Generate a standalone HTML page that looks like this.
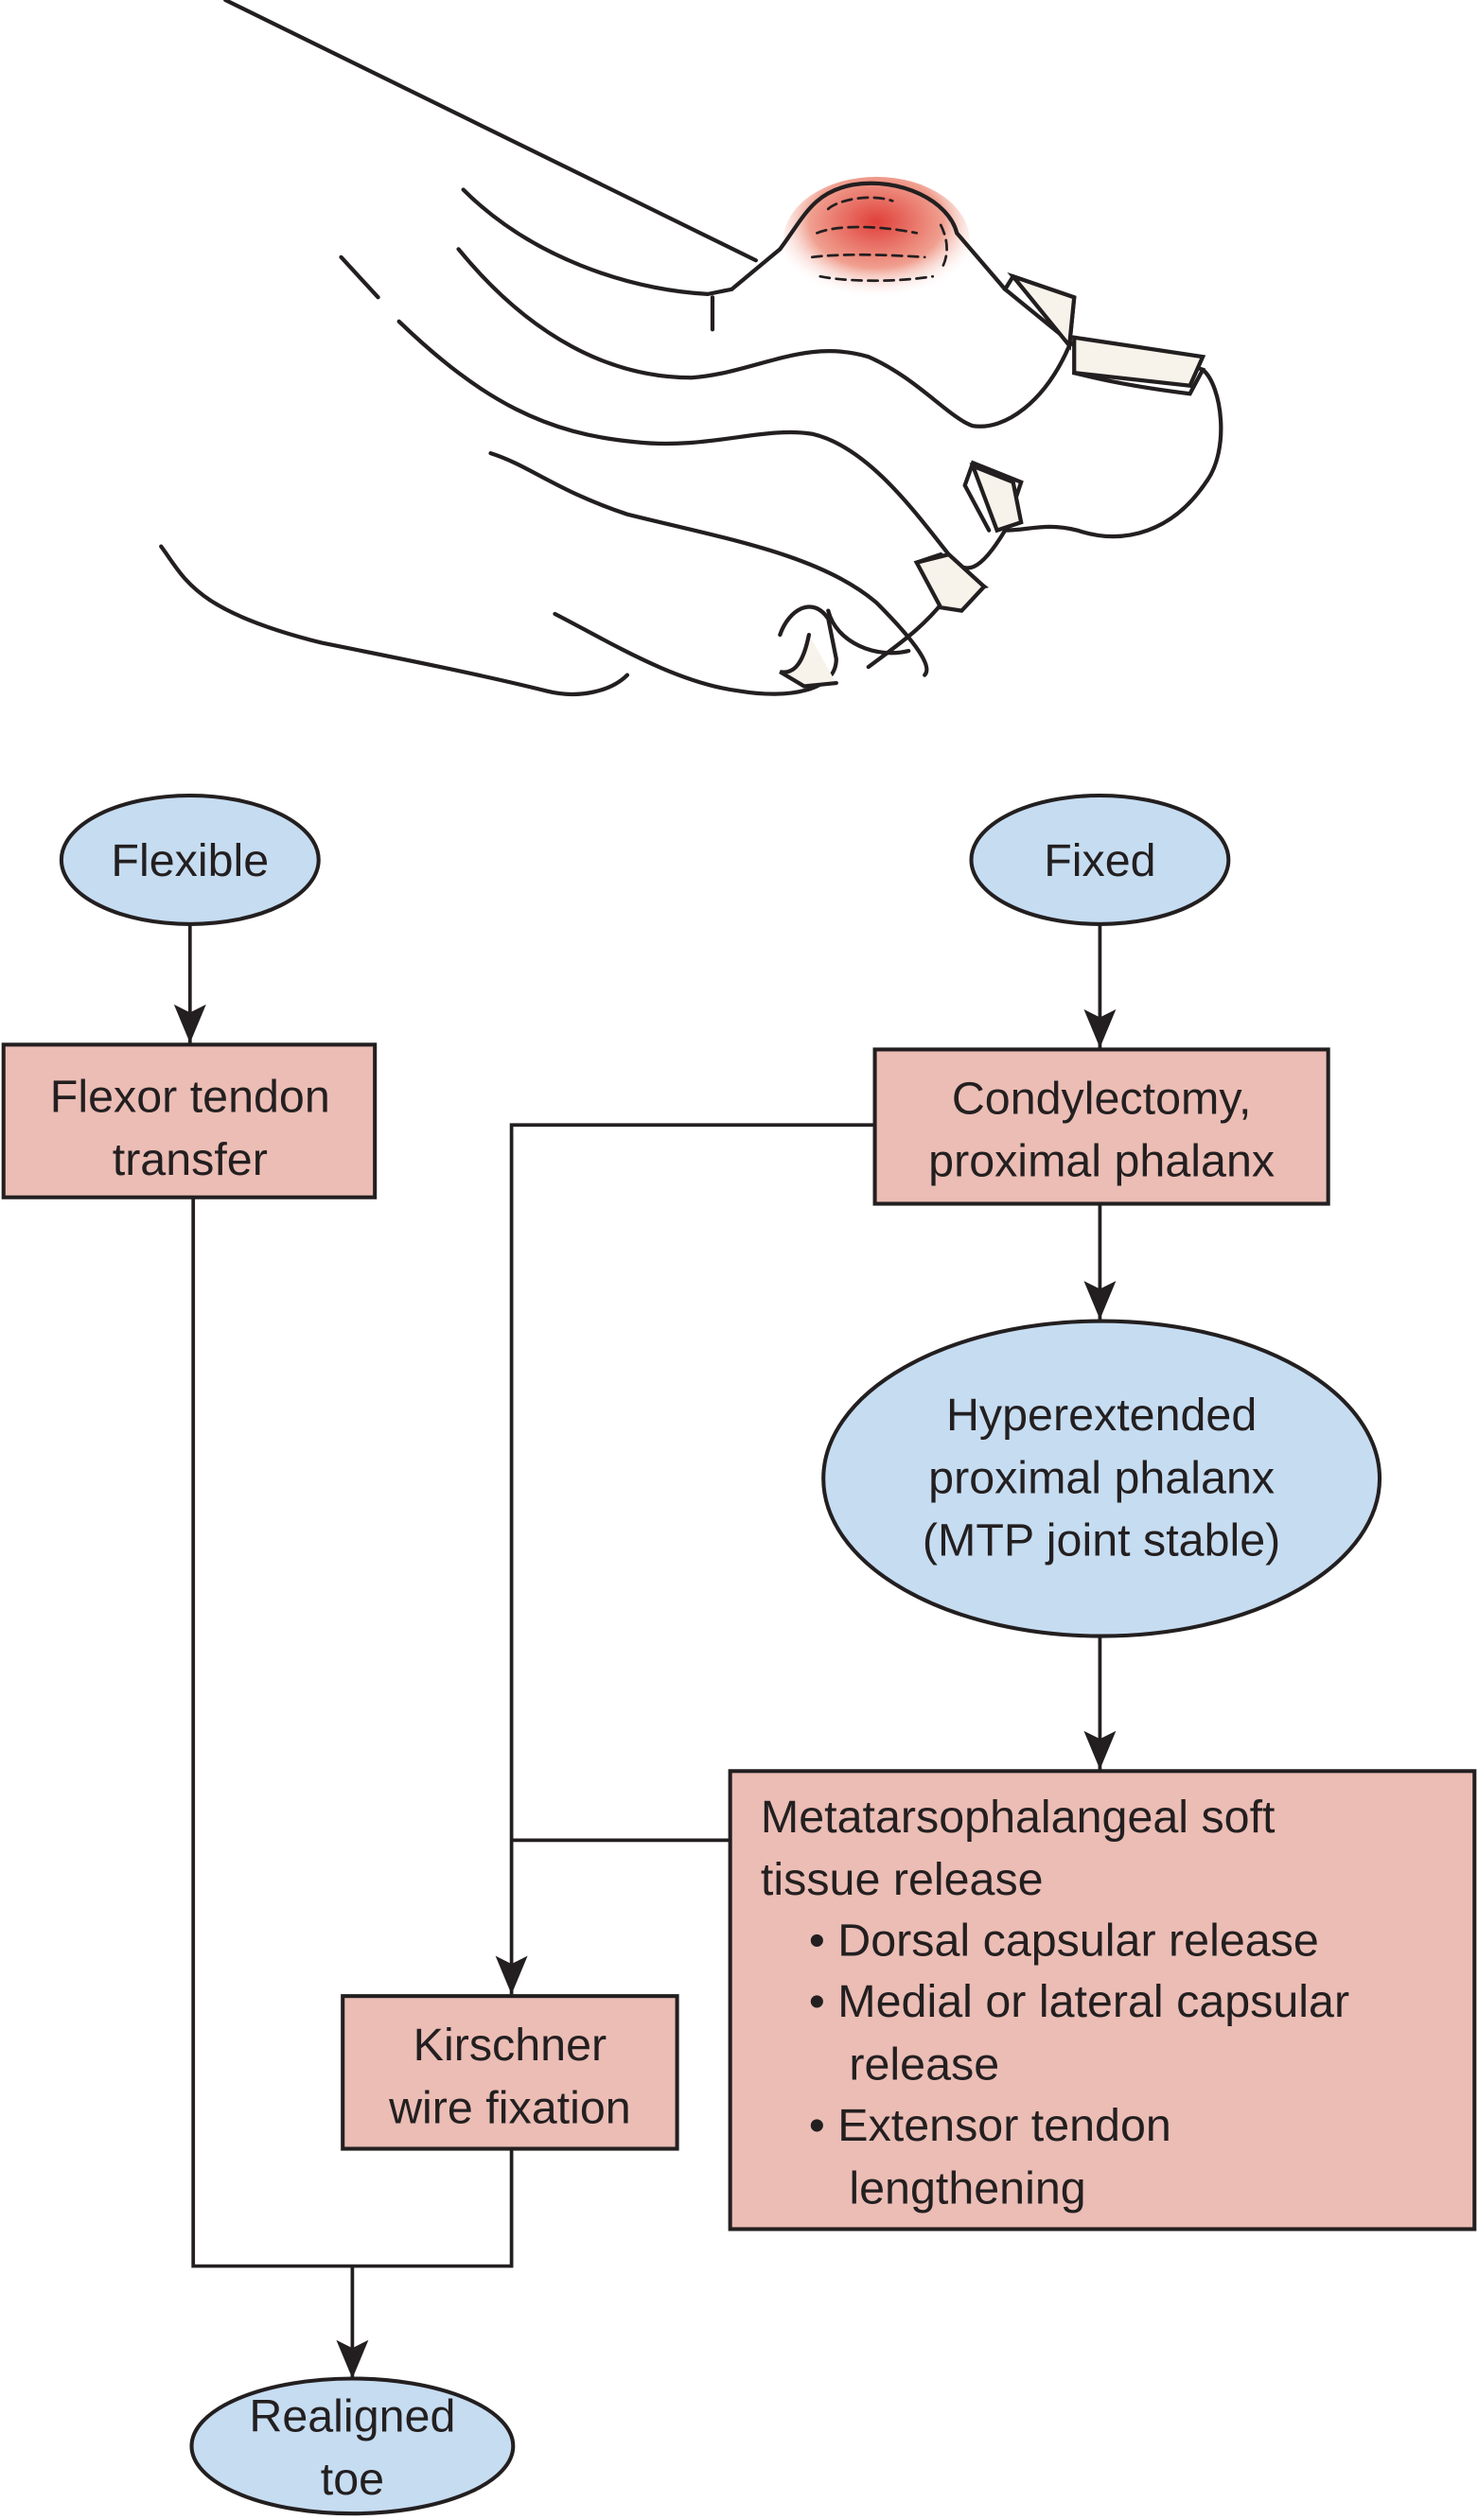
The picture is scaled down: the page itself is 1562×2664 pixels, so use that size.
<!DOCTYPE html>
<html><head><meta charset="utf-8"><style>
html,body{margin:0;padding:0;background:#fff;}
svg{display:block}
text{font-family:"Liberation Sans",Arial,sans-serif;font-size:28.5px;fill:#231f20}
</style></head><body>
<svg width="1562" height="2664" viewBox="0 0 919 1568" xmlns="http://www.w3.org/2000/svg">
<defs>
<radialGradient id="red" cx="0.5" cy="0.35" r="0.6">
<stop offset="0" stop-color="#e0403a"/><stop offset="0.6" stop-color="#f0a090"/><stop offset="1" stop-color="#fff" stop-opacity="0"/>
</radialGradient>
<marker id="ah" markerWidth="26" markerHeight="22" refX="24" refY="11" orient="auto" markerUnits="userSpaceOnUse">
<path d="M0,1 L24,11 L0,21 L5,11 Z" fill="#231f20"/>
</marker>
</defs>
<!-- foot -->
<g fill="none" stroke="#231f20" stroke-width="2.5" stroke-linecap="round">
<ellipse cx="545" cy="150" rx="58" ry="40" fill="url(#red)" stroke="none"/>
<path d="M140,0 L470,162"/>
<path d="M288,118 C330,160 390,180 440,183 L455,180 L485,155 C500,135 505,120 530,115 C560,110 590,125 595,145 L625,180"/>
<path d="M443,185 L443,205"/>
<path d="M285,155 C330,210 380,235 430,235 C470,232 500,210 540,222 C570,235 590,260 605,265 C625,268 650,250 665,215 L668,185 L630,172 L625,180 L668,215"/>
<path d="M212,160 L235,185 M248,200 C300,250 340,270 395,275 C440,280 475,265 505,270 C540,278 570,320 590,345 C600,360 610,355 625,330 L635,300 L605,288 L600,302 L615,330"/>
<path d="M668,215 C700,220 735,225 748,230 L740,245 C700,240 680,235 668,232 M748,230 C760,240 765,280 750,300 C730,330 700,340 670,330 C650,325 640,330 625,330"/>
<path d="M305,282 C330,290 345,305 390,320 C450,335 510,345 545,375 C570,400 580,415 575,420 M540,415 C560,400 575,390 590,370 L612,365 L585,345 L570,350"/>
<path d="M100,340 C115,360 120,380 200,400 C250,410 300,420 340,430 C360,435 380,430 390,420 M345,382 C380,400 420,425 460,430 C490,435 520,430 520,410 L515,385 C505,370 490,380 485,395 M515,380 C520,400 545,410 565,405"/>
<path d="M503,395 C500,410 495,420 485,418 L500,427 L520,425" fill="#f7f3ea"/>
<path d="M630,172 L668,185 L665,215 Z M668,210 L748,222 L740,240 L668,232 Z M605,290 L630,300 L635,325 L620,330 Z M570,350 L590,345 L612,365 L598,380 L585,378 Z" fill="#f7f3ea"/>
<g stroke-width="1.6" stroke-dasharray="6,4">
<path d="M515,130 C520,125 540,120 555,125"/>
<path d="M508,145 C520,140 545,140 570,145"/>
<path d="M505,160 C520,158 545,158 575,160"/>
<path d="M510,172 C525,175 555,176 580,172"/>
<path d="M585,140 C590,150 590,160 585,168"/>
</g>
</g>
<!-- flowchart -->
<g stroke="#231f20" stroke-width="2.2" fill="none">
<line x1="118" y1="575" x2="118" y2="649" marker-end="url(#ah)"/>
<line x1="684" y1="575" x2="684" y2="652" marker-end="url(#ah)"/>
<line x1="684" y1="749" x2="684" y2="821" marker-end="url(#ah)"/>
<line x1="684" y1="1018" x2="684" y2="1101" marker-end="url(#ah)"/>
<polyline points="544,700 318,700 318,1241" marker-end="url(#ah)"/>
<line x1="454" y1="1145" x2="318" y2="1145"/>
<polyline points="120,745 120,1410 318,1410 318,1337"/>
<line x1="219" y1="1410" x2="219" y2="1480" marker-end="url(#ah)"/>
</g>
<g stroke="#231f20" stroke-width="2.4">
<ellipse cx="118" cy="535" rx="80" ry="40" fill="#c6dcf1"/>
<ellipse cx="684" cy="535" rx="80" ry="40" fill="#c6dcf1"/>
<ellipse cx="685" cy="920" rx="173" ry="98" fill="#c6dcf1"/>
<ellipse cx="219" cy="1522" rx="100" ry="42" fill="#c6dcf1"/>
<rect x="2" y="650" width="231" height="95" fill="#ebbdb5"/>
<rect x="544" y="653" width="282" height="96" fill="#ebbdb5"/>
<rect x="454" y="1102" width="463" height="285" fill="#ebbdb5"/>
<rect x="213" y="1242" width="208" height="95" fill="#ebbdb5"/>
</g>
<g text-anchor="middle">
<text x="118" y="545">Flexible</text>
<text x="684" y="545">Fixed</text>
<text x="118" y="692">Flexor tendon</text>
<text x="118" y="731">transfer</text>
<text x="685" y="693">Condylectomy,</text>
<text x="685" y="732">proximal phalanx</text>
<text x="685" y="890">Hyperextended</text>
<text x="685" y="929">proximal phalanx</text>
<text x="685" y="968">(MTP joint stable)</text>
<text x="317" y="1282">Kirschner</text>
<text x="317" y="1321">wire fixation</text>
<text x="219" y="1513">Realigned</text>
<text x="219" y="1552">toe</text>
</g>
<g>
<text x="473" y="1140">Metatarsophalangeal soft</text>
<text x="473" y="1179">tissue release</text>
<text x="503" y="1217">• Dorsal capsular release</text>
<text x="503" y="1255">• Medial or lateral capsular</text>
<text x="528" y="1294">release</text>
<text x="503" y="1332">• Extensor tendon</text>
<text x="528" y="1371">lengthening</text>
</g>
</svg>
</body></html>
